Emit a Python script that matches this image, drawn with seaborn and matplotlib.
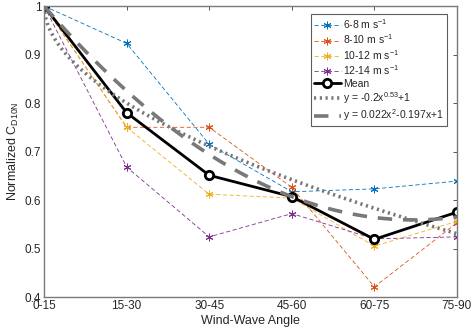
import numpy as np
import pandas as pd
import matplotlib
matplotlib.use("Agg")
import matplotlib.pyplot as plt
import seaborn as sns

angles = ["0-15", "15-30", "30-45", "45-60", "60-75", "75-90"]
ws_6_8 = [1.0, 0.923, 0.715, 0.617, 0.623, 0.639]
ws_8_10 = [1.0, 0.750, 0.750, 0.626, 0.421, 0.553]
ws_10_12 = [1.0, 0.750, 0.612, 0.604, 0.505, 0.556]
ws_12_14 = [1.0, 0.668, 0.524, 0.572, 0.520, 0.524]
mean_vals = [1.0, 0.780, 0.651, 0.607, 0.519, 0.575]

series_labels = ["6-8 m s$^{-1}$", "8-10 m s$^{-1}$", "10-12 m s$^{-1}$", "12-14 m s$^{-1}$"]
series_colors = ["#0072BD", "#D95319", "#EDB120", "#7E2F8E"]

# power-law and quadratic fit coefficients
pow_a, pow_b, pow_c = -0.2, 0.53, 1.0
quad_a, quad_b, quad_c = 0.022, -0.197, 1.0

sns.set_style("white")
plt.rcParams["font.family"] = ["Liberation Sans", "DejaVu Sans"]
plt.rcParams["mathtext.fontset"] = "custom"
plt.rcParams["mathtext.rm"] = "Liberation Sans"
plt.rcParams["mathtext.it"] = "Liberation Sans"

fig = plt.figure(figsize=(4.74, 3.36), dpi=100)
ax = fig.add_axes([0.093, 0.116, 0.871, 0.866])

xpos = np.arange(len(angles))
for vals, lab, col in zip([ws_6_8, ws_8_10, ws_10_12, ws_12_14], series_labels, series_colors):
    df = pd.DataFrame({"x": xpos, "y": vals})
    sns.lineplot(data=df, x="x", y="y", ax=ax, color=col, linewidth=0.6,
                 linestyle=(0, (5, 3)), marker=(6, 2, 0), markersize=5.5,
                 markeredgewidth=0.7, markeredgecolor=col, label=lab)

df_mean = pd.DataFrame({"x": xpos, "y": mean_vals})
sns.lineplot(data=df_mean, x="x", y="y", ax=ax, color="black", linewidth=2.0,
             marker="o", markersize=6, markerfacecolor="white",
             markeredgecolor="black", markeredgewidth=2.0, label="Mean")

xf = np.linspace(0, 5, 400)
df_pow = pd.DataFrame({"x": xf, "y": pow_a * xf ** pow_b + pow_c})
sns.lineplot(data=df_pow, x="x", y="y", ax=ax, color="#787878", linewidth=2.6,
             linestyle=(0, (0.6, 1.0)), label="y = -0.2x$^{0.53}$+1")
df_quad = pd.DataFrame({"x": xf, "y": quad_a * xf ** 2 + quad_b * xf + quad_c})
sns.lineplot(data=df_quad, x="x", y="y", ax=ax, color="#787878", linewidth=2.6,
             linestyle=(0, (4, 3)), label="y = 0.022x$^2$-0.197x+1")

ax.set_xlim(0, 5)
ax.set_ylim(0.4, 1.0)
ax.set_xticks(xpos)
ax.set_xticklabels(angles)
ax.set_yticks(np.arange(0.4, 1.01, 0.1))
ax.set_yticklabels(["0.4", "0.5", "0.6", "0.7", "0.8", "0.9", "1"])
ax.set_xlabel("Wind-Wave Angle", fontsize=9, color="#262626", labelpad=2)
ax.set_ylabel("Normalized C$_{\\mathrm{D10N}}$", fontsize=9, color="#262626", labelpad=3)

for sp in ax.spines.values():
    sp.set_visible(True)
    sp.set_color("#7a7a7a")
    sp.set_linewidth(1.0)
ax.tick_params(axis="both", direction="in", length=3, width=0.7, color="#555555",
               labelsize=8.5, labelcolor="#262626", top=True, right=True, pad=2)

leg = ax.legend(loc="upper right", bbox_to_anchor=(0.98, 0.98), fontsize=7.5,
                frameon=True, fancybox=False, edgecolor="#333333",
                handlelength=2.6, handletextpad=0.2, labelspacing=0.15,
                borderpad=0.3, borderaxespad=0.2)
leg.get_frame().set_linewidth(0.8)

fig.savefig("out.png", dpi=100)
